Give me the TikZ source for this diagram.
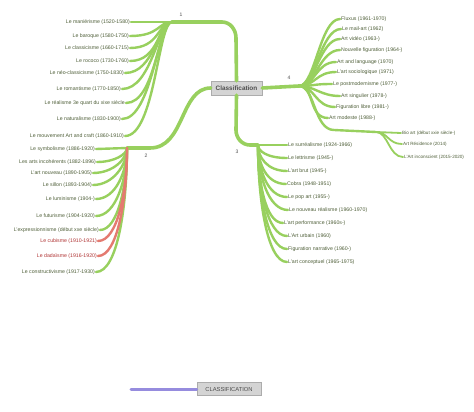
\documentclass[tikz,border=0pt]{standalone}
\usepackage{fontspec}
\setmainfont{Liberation Sans}
\definecolor{br}{RGB}{152,208,94}
\definecolor{rbr}{RGB}{228,122,112}
\definecolor{pbr}{RGB}{150,140,222}
\definecolor{ltxt}{RGB}{80,96,58}
\definecolor{rtxt}{RGB}{176,52,52}
\definecolor{boxf}{RGB}{212,212,212}
\definecolor{boxd}{RGB}{172,172,172}
\definecolor{boxt}{RGB}{78,78,78}
\begin{document}
\begin{tikzpicture}[x=1pt,y=-1pt,
  leafL/.style={anchor=east,inner sep=1pt,text=ltxt,font=\fontsize{5.2}{6}\selectfont},
  leafR/.style={anchor=west,inner sep=1pt,text=ltxt,font=\fontsize{5.2}{6}\selectfont},
  leafS/.style={anchor=west,inner sep=1pt,text=ltxt,font=\fontsize{4.6}{5}\selectfont},
  redtxt/.style={text=rtxt},
  mainbr/.style={draw=br,line width=3.6pt,line cap=round},
  twig/.style={draw=br,line width=2.4pt,line cap=round},
  thintwig/.style={draw=br,line width=1.8pt,line cap=round},
  redtwig/.style={draw=rbr,line width=2.4pt,line cap=round},
  num/.style={inner sep=0pt,text=boxt,font=\fontsize{5}{6}\selectfont},
  cbox/.style={fill=boxf,draw=boxd,line width=0.5pt,text=boxt,inner sep=1.5pt,
    font=\fontsize{6.4}{7}\selectfont\bfseries}
]
\fill[white] (0,0) rectangle (474,412);
\clip (0,0) rectangle (474,412);

% ---------- centre ----------
\node[cbox,minimum width=51pt,minimum height=14pt] (C) at (236.5,88) {Classification};

% ---------- branch 1 ----------
\coordinate (J1) at (172,22);
\draw[mainbr] (C.north) -- (236,38) to[out=90,in=0] (222,22) -- (J1);
\node[num] (n1) at (181,15) {1};
\node[leafL] (a1) at (131,22) {Le maniérisme (1520-1580)};
\node[leafL] (a2) at (130,36) {Le baroque (1580-1750)};
\node[leafL] (a3) at (130,48) {Le classicisme (1660-1715)};
\node[leafL] (a4) at (130,61) {Le rococo (1730-1760)};
\node[leafL] (a5) at (125,73) {Le néo-classicisme (1750-1830)};
\node[leafL] (a6) at (122,89) {Le romantisme (1770-1850)};
\node[leafL] (a7) at (126,103) {Le réalisme 3e quart du xixe siècle};
\node[leafL] (a8) at (122,119) {Le naturalisme (1830-1900)};
\node[leafL] (a9) at (125,136) {Le mouvement Art and craft (1860-1910)};
\draw[twig] (a1.east) -- (J1);
\foreach \n in {a2,a3,a4,a5,a6,a7,a8,a9}
  \draw[twig] (\n.east) .. controls +(30,0) and +(-14,0) .. (J1);

% ---------- branch 2 ----------
\coordinate (J2) at (127,148);
\draw[mainbr] (C.west) .. controls (180,88) and (185,148) .. (150,148) -- (J2);
\node[num] (n2) at (146,156) {2};
\node[leafL] (b1) at (96,149) {Le symbolisme (1886-1920)};
\node[leafL] (b2) at (97,162) {Les arts incohérents (1882-1896)};
\node[leafL] (b3) at (93,173) {L'art nouveau (1890-1905)};
\node[leafL] (b4) at (93,185) {Le sillon (1893-1904)};
\node[leafL] (b5) at (96,199) {Le luminisme (1904-)};
\node[leafL] (b6) at (96,216) {Le futurisme (1904-1920)};
\node[leafL] (b7) at (100,230) {L'expressionnisme (début xxe siècle)};
\node[leafL,redtxt] (b8) at (98,241) {Le cubisme (1910-1921)};
\node[leafL,redtxt] (b9) at (98,256) {Le dadaïsme (1916-1920)};
\node[leafL] (b10) at (96,272) {Le constructivisme (1917-1930)};
\draw[twig] (b1.east) -- (J2);
\draw[twig] (b2.east) .. controls +(18,0) and +(0,6) .. (J2);
\draw[twig] (b3.east) .. controls +(20,0) and +(0,11) .. (J2);
\draw[twig] (b4.east) .. controls +(20,0) and +(0,17) .. (J2);
\draw[twig] (b5.east) .. controls +(20,0) and +(0,23) .. (J2);
\draw[twig] (b6.east) .. controls +(20,0) and +(0,31) .. (J2);
\draw[twig] (b7.east) .. controls +(18,0) and +(0,37) .. (J2);
\draw[twig] (b10.east) .. controls +(22,0) and +(0,56) .. (J2);
\draw[redtwig] (b8.east) .. controls +(20,0) and +(0,42) .. (J2);
\draw[redtwig] (b9.east) .. controls +(20,0) and +(0,49) .. (J2);

% ---------- branch 3 ----------
\coordinate (J3) at (258,145);
\draw[mainbr] (C.south) -- (236,130) to[out=-90,in=180] (250,145) -- (J3);
\node[num] (n3) at (237,152) {3};
\node[leafR] (c1) at (287,145) {Le surréalisme (1924-1966)};
\node[leafR] (c2) at (287,158) {Le lettrisme (1945-)};
\node[leafR] (c3) at (287,171) {L'art brut (1945-)};
\node[leafR] (c4) at (286,184) {Cobra (1948-1951)};
\node[leafR] (c5) at (287,197) {Le pop art (1955-)};
\node[leafR] (c6) at (288,210) {Le nouveau réalisme (1960-1970)};
\node[leafR] (c7) at (283,223) {L'art performance (1960s-)};
\node[leafR] (c8) at (287,236) {L'Art urbain (1960)};
\node[leafR] (c9) at (287,249) {Figuration narrative (1960-)};
\node[leafR] (c10) at (287,262) {L'art conceptuel (1965-1975)};
\draw[twig] (J3) -- (c1.west);
\draw[twig] (J3) .. controls +(0,6) and +(-20,0) .. (c2.west);
\draw[twig] (J3) .. controls +(0,12) and +(-20,0) .. (c3.west);
\draw[twig] (J3) .. controls +(0,18) and +(-20,0) .. (c4.west);
\draw[twig] (J3) .. controls +(0,23) and +(-20,0) .. (c5.west);
\draw[twig] (J3) .. controls +(0,29) and +(-20,0) .. (c6.west);
\draw[twig] (J3) .. controls +(0,35) and +(-18,0) .. (c7.west);
\draw[twig] (J3) .. controls +(0,41) and +(-20,0) .. (c8.west);
\draw[twig] (J3) .. controls +(0,47) and +(-20,0) .. (c9.west);
\draw[twig] (J3) .. controls +(0,53) and +(-20,0) .. (c10.west);

% ---------- branch 4 ----------
\coordinate (J4) at (299,86);
\draw[mainbr] (C.east) -- (J4);
\node[num] (n4) at (289,78) {4};
\node[leafR] (d1) at (340,19) {Fluxus (1961-1970)};
\node[leafR] (d2) at (341,29) {Le mail-art (1962)};
\node[leafR] (d3) at (340,39) {Art vidéo (1963-)};
\node[leafR] (d4) at (340,50) {Nouvelle figuration (1964-)};
\node[leafR] (d5) at (336,62) {Art and language (1970)};
\node[leafR] (d6) at (336,72) {L'art sociologique (1971)};
\node[leafR] (d7) at (332,84) {Le postmodernisme (1977-)};
\node[leafR] (d8) at (340,96) {Art singulier (1978-)};
\node[leafR] (d9) at (335,107) {Figuration libre (1981-)};
\node[leafR] (d10) at (328,118) {Art modeste (1988-)};
\foreach \n in {d1,d2,d3,d4,d5,d6,d7,d8,d9,d10}
  \draw[twig] (J4) .. controls +(16,0) and +(-20,0) .. (\n.west);
\coordinate (K4) at (334,130);
\coordinate (J5) at (376,132);
\draw[twig] (J4) .. controls +(16,0) and +(-20,0) .. (K4) -- (J5);
\node[leafS] (e1) at (401,133) {Bio art (début xxie siècle-)};
\node[leafS] (e2) at (402,144) {Art Résidence (2014)};
\node[leafS] (e3) at (403,157) {L'Art inconscient (2015-2020)};
\draw[thintwig] (J5) -- (e1.west);
\draw[thintwig] (J5) .. controls +(12,0) and +(-14,0) .. (e2.west);
\draw[thintwig] (J5) .. controls +(12,0) and +(-14,0) .. (e3.west);

% ---------- bottom ----------
\node[cbox,minimum width=64pt,minimum height=13pt,font=\fontsize{5.8}{7}\selectfont] (C2) at (229,389) {CLASSIFICATION};
\coordinate (P0) at (131,389);
\draw[draw=pbr,line width=3pt,line cap=round] (P0) -- (C2.west);
\end{tikzpicture}
\end{document}
